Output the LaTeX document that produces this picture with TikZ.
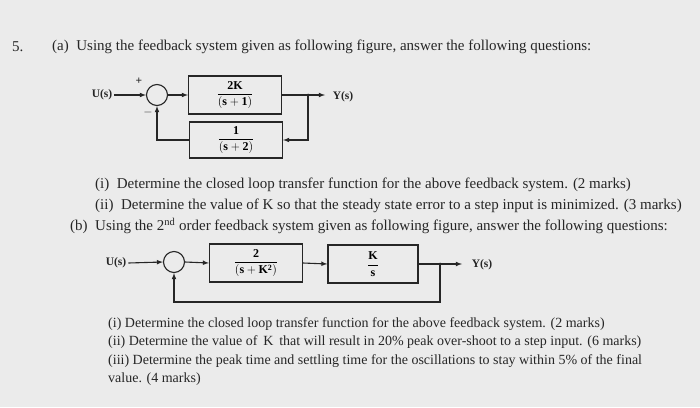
\documentclass[tikz,border=0pt]{standalone}
\usepackage{fontspec}
\setmainfont{Liberation Serif}
\begin{document}
\begin{tikzpicture}[x=1pt,y=-1pt,
  blk/.style={draw=black!85,line width=1.1pt,minimum width=93pt,minimum height=38pt,inner sep=0pt,font=\fontsize{12}{13}\selectfont},
  sm/.style={draw=black!85,line width=1.1pt,circle,minimum size=21pt,inner sep=0pt},
  ln/.style={line width=1.1pt,draw=black!85},
  ar/.style={ln,-latex},
  txt/.style={anchor=west,inner sep=0pt,text=black!85,font=\fontsize{15}{17}\selectfont},
  txtb/.style={anchor=west,inner sep=0pt,text=black!85,font=\fontsize{14}{16}\selectfont},
  lab/.style={inner sep=2pt,text=black!85,font=\bfseries\fontsize{11.5}{13}\selectfont}]
\fill[black!8] (0,0) rectangle (700,407);
\useasboundingbox (0,0) rectangle (700,407);
\node[txt] (n5) at (12,47) {5.};
\node[txt] (ta) at (52,47) {(a)\enspace Using the feedback system given as following figure, answer the following questions:};
% diagram 1
\node[lab] (u1) at (102,95) {U(s)};
\node[sm] (s1) at (157,95) {};
\node[blk] (b1) at (235,95) {$\displaystyle\frac{\mathbf{2K}}{\mathbf{(s+1)}}$};
\node[blk,minimum height=36pt] (b2) at (236,140) {$\displaystyle\frac{\mathbf{1}}{\mathbf{(s+2)}}$};
\node[lab] (y1) at (343,97) {Y(s)};
\coordinate (p1) at (308,95);
\coordinate (o1) at (325,95);
\node[lab] (pl1) at (139,81) {+};
\node[lab] (mi1) at (148,112) {$-$};
\draw[ar] (u1.east) -- (s1.west);
\draw[ar] (s1.east) -- (b1.west);
\draw[ar] (b1.east) -- (o1);
\draw[ar] (p1) |- (b2.east);
\draw[ar] (b2.west) -| (s1.south);
\fill[black!85] (p1) circle (1.5pt);
\node[txt] (t1) at (95,185) {(i)\enspace Determine the closed loop transfer function for the above feedback system. (2 marks)};
\node[txt] (t2) at (95,206) {(ii)\enspace Determine the value of K so that the steady state error to a step input is minimized. (3 marks)};
\node[txt] (tb) at (70,226) {(b)\enspace Using the 2\textsuperscript{nd} order feedback system given as following figure, answer the following questions:};
% diagram 2
\node[lab] (u2) at (116,263) {U(s)};
\node[sm] (s2) at (174,262) {};
\node[blk] (b3) at (256,263) {$\displaystyle\frac{\mathbf{2}}{\mathbf{(s+K^2)}}$};
\node[blk,minimum width=90pt] (b4) at (373,264) {$\displaystyle\frac{\mathbf{K}}{\mathbf{s}}$};
\node[lab] (y2) at (482,265) {Y(s)};
\coordinate (p2) at (440,264);
\coordinate (o2) at (462,264);
\coordinate (f2) at (440,302);
\draw[ar] (u2.east) -- (s2.west);
\draw[ar] (s2.east) -- (b3.west);
\draw[ar] (b3.east) -- (b4.west);
\draw[ar] (b4.east) -- (o2);
\draw[ar] (p2) -- (f2) -| (s2.south);
\fill[black!85] (p2) circle (1.5pt);
\node[txtb] (t3) at (108,324) {(i) Determine the closed loop transfer function for the above feedback system. (2 marks)};
\node[txtb] (t4) at (108,342) {(ii) Determine the value of\, K\, that will result in 20\% peak over-shoot to a step input. (6 marks)};
\node[txtb] (t5) at (108,361) {(iii) Determine the peak time and settling time for the oscillations to stay within 5\% of the final};
\node[txtb] (t6) at (108,379) {value. (4 marks)};
\end{tikzpicture}
\end{document}
